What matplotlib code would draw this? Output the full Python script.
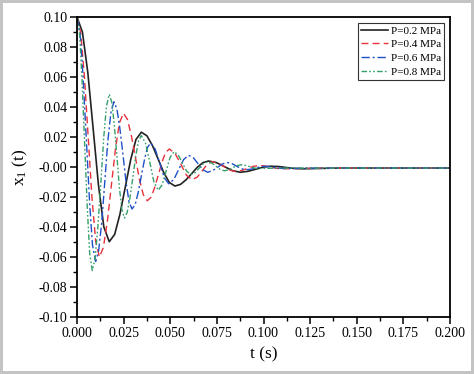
import matplotlib
matplotlib.use("Agg")
import matplotlib.pyplot as plt
from matplotlib.ticker import MultipleLocator, FormatStrFormatter

# ---- data ----
labels = ["P=0.2 MPa", "P=0.4 MPa", "P=0.6 MPa", "P=0.8 MPa"]

t_02 = [0, 0.0029, 0.0058, 0.0087, 0.0115, 0.0144, 0.0173,
        0.0202, 0.0230, 0.0259, 0.0288, 0.0316, 0.0345,
        0.0375, 0.0405, 0.0435, 0.0465, 0.0495, 0.0525,
        0.0555, 0.0585, 0.0615, 0.0645, 0.0675, 0.0705,
        0.0748, 0.0790, 0.0833, 0.0875,
        0.0916, 0.0958, 0.0999, 0.1040,
        0.1083, 0.1125, 0.1168, 0.1210,
        0.1400, 0.2000]
x_02 = [0.100, 0.090, 0.063, 0.025, -0.012, -0.040, -0.0498,
        -0.0449, -0.0316, -0.0133, 0.0050, 0.0183, 0.0232,
        0.0208, 0.0142, 0.0053, -0.0037, -0.0103, -0.0127,
        -0.0116, -0.0085, -0.0044, -0.0002, 0.0029, 0.0040,
        0.0029, 0.0003, -0.0024, -0.0035,
        -0.0029, -0.0015, -0.0001, 0.0005,
        0.0003, -0.0004, -0.0010, -0.0012,
        -0.0007, -0.0007]

t_04 = [0, 0.0020, 0.0040, 0.0060, 0.0080, 0.0100, 0.0120,
        0.01415, 0.0163, 0.01845, 0.0206, 0.02275, 0.0249,
        0.0270, 0.0291, 0.0313, 0.0334, 0.0356, 0.0377,
        0.0397, 0.0416, 0.0436, 0.0456, 0.0475, 0.0495,
        0.0526, 0.0557, 0.0587, 0.0618,
        0.0645, 0.0672, 0.0698, 0.0725,
        0.0756, 0.0788, 0.0819, 0.0850,
        0.0881, 0.0913, 0.0944, 0.0975,
        0.1006, 0.1038, 0.1069, 0.1100,
        0.1300, 0.2000]
x_04 = [0.100, 0.0893, 0.060, 0.020, -0.020, -0.0493, -0.060,
        -0.0536, -0.0361, -0.0121, 0.0119, 0.0294, 0.0358,
        0.0319, 0.0212, 0.0067, -0.0079, -0.0186, -0.0225,
        -0.0202, -0.0139, -0.0053, 0.0034, 0.0097, 0.0120,
        0.0090, 0.0018, -0.0055, -0.0085,
        -0.0067, -0.0025, 0.0018, 0.0036,
        0.0026, 0.0003, -0.0020, -0.0030,
        -0.0024, -0.0010, 0.0004, 0.0010,
        0.0007, -0.0001, -0.0009, -0.0012,
        -0.0007, -0.0007]

t_06 = [0, 0.0017, 0.0033, 0.0050, 0.0067, 0.0083, 0.0100,
        0.0116, 0.0133, 0.0149, 0.0165, 0.0182, 0.0198,
        0.0214, 0.0230, 0.0247, 0.0263, 0.0279, 0.0295,
        0.0312, 0.0328, 0.0345, 0.0362, 0.0378, 0.0395,
        0.0419, 0.0444, 0.0468, 0.0492,
        0.0519, 0.0545, 0.0572, 0.0598,
        0.0624, 0.0649, 0.0675, 0.0700,
        0.0726, 0.0753, 0.0779, 0.0805,
        0.0830, 0.0855, 0.0880, 0.0905,
        0.0931, 0.0958, 0.0984, 0.1010,
        0.1035, 0.1060, 0.1085, 0.1110,
        0.1300, 0.2000]
x_06 = [0.100, 0.0891, 0.0593, 0.0185, -0.0223, -0.0521, -0.063,
        -0.0559, -0.0364, -0.0098, 0.0169, 0.0364, 0.0435,
        0.0387, 0.0256, 0.0078, -0.0101, -0.0232, -0.028,
        -0.0251, -0.0170, -0.0060, 0.0050, 0.0131, 0.0160,
        0.0120, 0.0024, -0.0072, -0.0112,
        -0.0084, -0.0017, 0.0050, 0.0078,
        0.0062, 0.0022, -0.0018, -0.0035,
        -0.0025, -0.0003, 0.0020, 0.0030,
        0.0023, 0.0006, -0.0011, -0.0018,
        -0.0015, -0.0007, 0.0002, 0.0005,
        0.0003, -0.0003, -0.0008, -0.0010,
        -0.0007, -0.0007]

t_08 = [0, 0.0014, 0.0027, 0.0041, 0.0055, 0.0068, 0.0082,
        0.0097, 0.0112, 0.0128, 0.0143, 0.0158, 0.0173,
        0.0187, 0.0200, 0.0214, 0.0227, 0.0241, 0.0254,
        0.0269, 0.0284, 0.0300, 0.0315, 0.0330, 0.0345,
        0.0368, 0.0391, 0.0413, 0.0436,
        0.0457, 0.0478, 0.0499, 0.0520,
        0.0543, 0.0565, 0.0588, 0.0610,
        0.0633, 0.0655, 0.0678, 0.0700,
        0.0723, 0.0745, 0.0768, 0.0790,
        0.0813, 0.0835, 0.0858, 0.0880,
        0.0903, 0.0925, 0.0948, 0.0970,
        0.1100, 0.2000]
x_08 = [0.100, 0.0887, 0.0578, 0.0155, -0.0268, -0.0577, -0.069,
        -0.0611, -0.0396, -0.0103, 0.0191, 0.0406, 0.0485,
        0.0430, 0.0279, 0.0073, -0.0134, -0.0285, -0.034,
        -0.0303, -0.0203, -0.0065, 0.0073, 0.0173, 0.021,
        0.0157, 0.0028, -0.0102, -0.0155,
        -0.0117, -0.0027, 0.0064, 0.0102,
        0.0080, 0.0026, -0.0028, -0.0050,
        -0.0038, -0.0008, 0.0023, 0.0035,
        0.0026, 0.0005, -0.0016, -0.0025,
        -0.0019, -0.0005, 0.0009, 0.0015,
        0.0011, 0.0003, -0.0006, -0.0010,
        -0.0007, -0.0007]

# ---- style ----
plt.rcParams['font.family'] = ['Liberation Serif', 'DejaVu Serif']
plt.rcParams['mathtext.fontset'] = 'custom'
plt.rcParams['mathtext.rm'] = 'Liberation Serif'
plt.rcParams['mathtext.it'] = 'Liberation Serif:italic'
plt.rcParams['axes.unicode_minus'] = False

fig = plt.figure(figsize=(4.74, 3.74), dpi=100)
fig.patch.set_facecolor('white')
fig.patch.set_edgecolor('#c4c4c4')
fig.patch.set_linewidth(3)
ax = fig.add_axes([77/474, 1-317/374, (450-77)/474, (317-17)/374])

series = [(t_02, x_02, '#222222', '-', 1.2),
          (t_04, x_04, '#e8323c', (0, (5, 3)), 1.0),
          (t_06, x_06, '#2050c8', (0, (6, 2, 1.5, 2)), 1.0),
          (t_08, x_08, '#35a06a', (0, (4, 1.6, 1.2, 1.6, 1.2, 1.6)), 1.0)]
for (t, x, c, ls, lw), lab in zip(series, labels):
    ax.plot(t, x, color=c, linestyle=ls, linewidth=lw, label=lab)

ax.set_xlim(0, 0.2)
ax.set_ylim(-0.10, 0.10)
ax.xaxis.set_major_locator(MultipleLocator(0.025))
ax.xaxis.set_minor_locator(MultipleLocator(0.0125))
ax.yaxis.set_major_locator(MultipleLocator(0.02))
ax.yaxis.set_minor_locator(MultipleLocator(0.01))
ax.xaxis.set_major_formatter(FormatStrFormatter('%.3f'))
ax.yaxis.set_major_formatter(FormatStrFormatter('%.2f'))
ax.tick_params(which='major', direction='out', length=5, width=1.1,
               labelsize=10, top=False, right=False, pad=2)
ax.tick_params(which='minor', direction='out', length=3, width=1.0,
               top=False, right=False)
for s in ax.spines.values():
    s.set_linewidth(1.3)

ax.set_xlabel('t (s)', fontsize=12.5, labelpad=5)
ax.set_ylabel('x$_1$ (t)', fontsize=12.5, labelpad=6)

leg = ax.legend(loc='upper right', fontsize=8, frameon=True, fancybox=False,
                edgecolor='#333333', framealpha=1, borderpad=0.3,
                labelspacing=0.35, handlelength=2.4, handletextpad=0.3,
                borderaxespad=0.5)
leg.get_frame().set_linewidth(0.8)

fig.savefig('out.png', dpi=100, facecolor=fig.get_facecolor(),
            edgecolor=fig.get_edgecolor())
